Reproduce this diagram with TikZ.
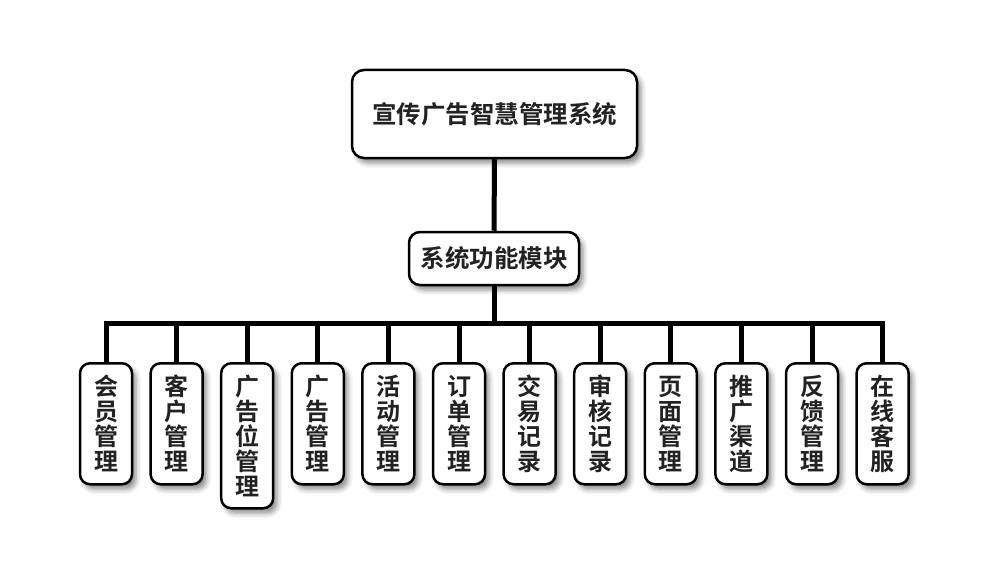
\documentclass[tikz,border=0pt]{standalone}
\usepackage{fontspec}
\newfontfamily\cjk{Noto Sans CJK SC Bold}
\usetikzlibrary{shadows.blur,backgrounds}
\definecolor{txt}{HTML}{222222}
\tikzset{
  box/.style={draw=black, line width=2.5pt, fill=white, text=txt,
    blur shadow={shadow xshift=4pt, shadow yshift=-5pt, shadow blur radius=5pt, shadow opacity=45}},
  topbox/.style={box, rounded corners=12pt, minimum width=285pt, minimum height=88pt,
    font=\cjk\fontsize{24.5}{28}\selectfont},
  midbox/.style={box, rounded corners=11pt, minimum width=170pt, minimum height=53pt,
    font=\cjk\fontsize{24.5}{28}\selectfont},
  childbox/.style={box, rounded corners=10pt, minimum width=52pt, minimum height=121pt,
    anchor=north, inner xsep=0pt, align=center, text width=26pt,
    font=\cjk\fontsize{24}{25}\selectfont},
  link/.style={line width=5pt, draw=black}
}
\begin{document}
\begin{tikzpicture}[x=1pt,y=-1pt]
\useasboundingbox (0,0) rectangle (987,583);
\node[topbox] (top) at (494.5,114) {宣传广告智慧管理系统};
\node[midbox] (mid) at (494,258.5) {系统功能模块};
\coordinate (bus) at (494,323);
\node[childbox] (c1) at (106,362) {会\\员\\管\\理};
\node[childbox] (c2) at (176.6,362) {客\\户\\管\\理};
\node[childbox, minimum height=145pt] (c3) at (247.2,362) {广\\告\\位\\管\\理};
\node[childbox] (c4) at (317.8,362) {广\\告\\管\\理};
\node[childbox] (c5) at (388.4,362) {活\\动\\管\\理};
\node[childbox] (c6) at (459,362) {订\\单\\管\\理};
\node[childbox] (c7) at (529.6,362) {交\\易\\记\\录};
\node[childbox] (c8) at (600.2,362) {审\\核\\记\\录};
\node[childbox] (c9) at (670.8,362) {页\\面\\管\\理};
\node[childbox] (c10) at (741.4,362) {推\\广\\渠\\道};
\node[childbox] (c11) at (812,362) {反\\馈\\管\\理};
\node[childbox] (c12) at (882.6,362) {在\\线\\客\\服};
\begin{pgfonlayer}{background}
\draw[link] (top.south) -- (mid.north);
\draw[link] (mid.south) -- (bus);
\draw[link] (c1.north) |- (bus) -| (c12.north);
\foreach \i in {2,...,11} {\draw[link] (c\i.north) -- (c\i.north |- bus);}
\end{pgfonlayer}
\end{tikzpicture}
\end{document}
